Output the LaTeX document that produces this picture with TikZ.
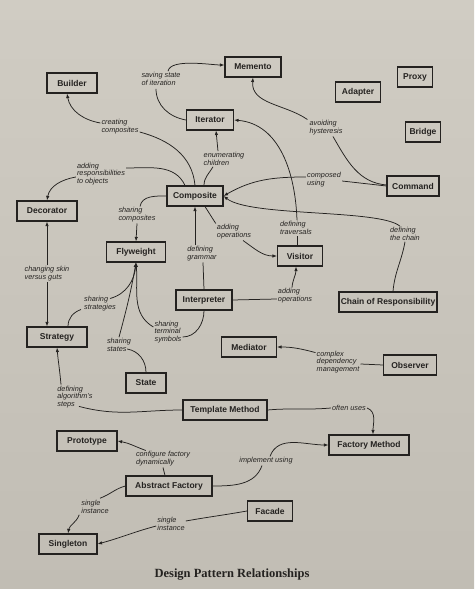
\documentclass[tikz,border=0pt]{standalone}
\usepackage{fontspec}
\setmainfont{Liberation Sans}
\newfontfamily\titlefont{Liberation Serif}
\usetikzlibrary{arrows.meta}
\definecolor{papertop}{RGB}{208,204,195}
\definecolor{paperbot}{RGB}{193,189,180}
\definecolor{ink}{RGB}{36,34,32}
\begin{document}
\begin{tikzpicture}[x=1pt,y=1pt,
  box/.style={draw=ink, line width=1.1pt, minimum height=20pt, inner sep=0pt,
    font=\fontsize{8.5}{10}\selectfont\bfseries, text=ink},
  lab/.style={font=\fontsize{7.3}{7.8}\selectfont\itshape, align=left, inner sep=1pt, text=ink},
  conn/.style={draw=ink, line width=0.75pt},
  arr/.style={conn, -{Latex[length=4.5pt,width=3.4pt]}},
]
\shade[top color=papertop, bottom color=paperbot] (0,0) rectangle (474,589);
\useasboundingbox (0,0) rectangle (474,589);

% boxes
\node[box, minimum width=56pt] (mem) at (253,522) {Memento};
\node[box, minimum width=50pt] (bui) at (72,506) {Builder};
\node[box, minimum width=35pt] (pro) at (415,512) {Proxy};
\node[box, minimum width=45pt] (ada) at (358,497) {Adapter};
\node[box, minimum width=35pt] (bri) at (423,457) {Bridge};
\node[box, minimum width=47pt] (ite) at (210,469) {Iterator};
\node[box, minimum width=52pt] (com) at (413,403) {Command};
\node[box, minimum width=56pt] (cps) at (195,393) {Composite};
\node[box, minimum width=60pt] (dec) at (47,378) {Decorator};
\node[box, minimum width=59pt] (fly) at (136,337) {Flyweight};
\node[box, minimum width=45pt] (vis) at (300,333) {Visitor};
\node[box, minimum width=56pt] (int) at (204,289) {Interpreter};
\node[box, minimum width=98pt] (cor) at (388,287) {Chain of Responsibility};
\node[box, minimum width=60pt] (str) at (57,252) {Strategy};
\node[box, minimum width=40pt] (sta) at (146,206) {State};
\node[box, minimum width=55pt] (med) at (249,242) {Mediator};
\node[box, minimum width=53pt] (obs) at (410,224) {Observer};
\node[box, minimum width=84pt] (tem) at (225,179) {Template Method};
\node[box, minimum width=60pt] (prt) at (87,148) {Prototype};
\node[box, minimum width=80pt] (fac) at (369,144) {Factory Method};
\node[box, minimum width=86pt] (abs) at (169,103) {Abstract Factory};
\node[box, minimum width=45pt] (fcd) at (270,78) {Facade};
\node[box, minimum width=58pt] (sin) at (68,45) {Singleton};

% labels
\node[lab] (l_save) at (161,510) {saving state\\of iteration};
\node[lab] (l_create) at (120,462) {creating\\composites};
\node[lab] (l_addresp) at (101,415) {adding\\responsibilities\\to objects};
\node[lab] (l_enum) at (224,430) {enumerating\\children};
\node[lab] (l_avoid) at (326,461) {avoiding\\hysteresis};
\node[lab] (l_composed) at (324,409) {composed\\using};
\node[lab] (l_sharecomp) at (137,374) {sharing\\composites};
\node[lab] (l_addop1) at (234,357) {adding\\operations};
\node[lab] (l_deftrav) at (296,361) {defining\\traversals};
\node[lab] (l_defchain) at (405,355) {defining\\the chain};
\node[lab] (l_defgram) at (202,335) {defining\\grammar};
\node[lab] (l_skin) at (47,315) {changing skin\\versus guts};
\node[lab] (l_sharestrat) at (100,285) {sharing\\strategies};
\node[lab] (l_addop2) at (295,293) {adding\\operations};
\node[lab] (l_term) at (168,257) {sharing\\terminal\\symbols};
\node[lab] (l_states) at (119,244) {sharing\\states};
\node[lab] (l_complex) at (338,227) {complex\\dependency\\management};
\node[lab] (l_alg) at (75,192) {defining\\algorithm's\\steps};
\node[lab] (l_often) at (349,181) {often uses};
\node[lab] (l_config) at (163,130) {configure factory\\dynamically};
\node[lab] (l_impl) at (266,128) {implement using};
\node[lab] (l_single1) at (95,82) {single\\instance};
\node[lab] (l_single2) at (171,65) {single\\instance};

\node[font=\titlefont\bfseries\fontsize{12.5}{14}\selectfont, text=ink, inner sep=0pt] (title) at (232,14) {Design Pattern Relationships};

% connectors
% Iterator -> Memento
\draw[conn] (ite.west) to[out=170,in=-90] ([xshift=-5pt,yshift=-2pt]l_save.south);
\draw[arr] ([xshift=7pt]l_save.north) to[out=80,in=180,looseness=0.6] ([yshift=2pt]mem.west);
% Composite -> Builder
\draw[conn] ([yshift=-5pt]l_create.east) to[out=-15,in=95] (cps.north);
\draw[arr] ([yshift=4pt]l_create.west) to[out=170,in=-80] ([xshift=-5pt]bui.south);
% Composite -> Iterator
\draw[conn] ([xshift=9pt]cps.north) to[out=90,in=-120] ([xshift=-11pt]l_enum.south);
\draw[arr] ([xshift=-6pt]l_enum.north) -- ([xshift=6pt]ite.south);
% Composite -> Decorator
\draw[conn] ([yshift=6pt]l_addresp.east) to[out=0,in=115] ([xshift=-10pt]cps.north);
\draw[arr] ([yshift=-3pt]l_addresp.west) to[out=190,in=80] (dec.north);
% Command -> Memento
\draw[conn] ([xshift=7pt]l_avoid.south) to[out=-60,in=175] ([yshift=1pt]com.west);
\draw[arr] ([xshift=-1pt]l_avoid.north west) to[out=145,in=-95] (mem.south);
% Command -> Composite
\draw[conn] (com.west) -- ([yshift=-1pt]l_composed.east);
\draw[arr] ([yshift=3pt]l_composed.west) to[out=180,in=30] (cps.east);
% Visitor -> Iterator
\draw[conn] ([xshift=-3pt]vis.north) -- ([xshift=1pt]l_deftrav.south);
\draw[arr] ([xshift=1pt]l_deftrav.north) to[out=92,in=-5] (ite.east);
% Chain -> Composite
\draw[conn] (l_defchain.south) to[out=-100,in=85] ([xshift=5pt]cor.north);
\draw[arr] ([xshift=-5pt]l_defchain.north) .. controls (380,380) and (250,372) .. (cps.east);
% Composite -> Visitor
\draw[conn] ([xshift=10pt]cps.south) -- (l_addop1.north west);
\draw[arr] ([xshift=9pt]l_addop1.south) to[out=-35,in=180] (vis.west);
% Composite -> Flyweight
\draw[conn] (cps.west) to[out=180,in=80] ([xshift=3pt]l_sharecomp.north);
\draw[arr] (l_sharecomp.south) -- (fly.north);
% Interpreter -> Composite
\draw[conn] (int.north) -- ([xshift=1pt]l_defgram.south);
\draw[arr] ([xshift=-7pt]l_defgram.north) -- (cps.south);
% Interpreter -> Visitor
\draw[conn] (int.east) -- ([yshift=-3pt]l_addop2.west);
\draw[arr] ([xshift=-3pt]l_addop2.north) to[out=85,in=-90] ([xshift=-4pt]vis.south);
% Decorator <-> Strategy
\draw[arr] (l_skin.north) -- (dec.south);
\draw[arr] (l_skin.south) -- ([xshift=-10pt]str.north);
% Strategy -> Flyweight
\draw[conn] ([xshift=11pt]str.north) to[out=90,in=-160] ([xshift=-2pt,yshift=3pt]l_sharestrat.south west);
\draw[arr] ([xshift=-7pt,yshift=-3pt]l_sharestrat.north east) to[out=15,in=-95] (fly.south);
% State -> Flyweight
\draw[conn] (sta.north) to[out=90,in=-10] ([xshift=-5pt,yshift=-4pt]l_states.east);
\draw[arr] (l_states.north) to[out=75,in=-100] (fly.south);
% Interpreter -> Flyweight
\draw[conn] (int.south) to[out=-90,in=0] ([yshift=-5pt]l_term.east);
\draw[arr] ([yshift=5pt]l_term.west) to[out=150,in=-85] (fly.south);
% Observer -> Mediator
\draw[conn] (obs.west) -- ([yshift=-2pt]l_complex.east);
\draw[arr] ([yshift=-3pt]l_complex.north west) to[out=165,in=0] (med.east);
% Template Method -> Strategy
\draw[conn] ([xshift=4pt,yshift=3pt]l_alg.south) to[out=-15,in=180] (tem.west);
\draw[arr] ([xshift=-14pt]l_alg.north) to[out=95,in=-85] (str.south);
% Template Method -> Factory Method
\draw[conn] (tem.east) to[out=5,in=185] (l_often.west);
\draw[arr] (l_often.east) to[out=-20,in=90] ([xshift=4pt]fac.north);
% Abstract Factory -> Prototype
\draw[conn] ([xshift=-4pt]abs.north) -- (l_config.south);
\draw[arr] ([xshift=11pt]l_config.north west) to[out=160,in=-10] (prt.east);
% Abstract Factory -> Factory Method
\draw[conn] (abs.east) to[out=0,in=-110] ([xshift=-4pt]l_impl.south);
\draw[arr] ([xshift=4pt]l_impl.north) to[out=70,in=180] (fac.west);
% Abstract Factory -> Singleton
\draw[conn] (abs.west) to[out=195,in=20] ([xshift=5pt,yshift=1pt]l_single1.north);
\draw[arr] ([xshift=-1pt]l_single1.south west) to[out=-110,in=80] (sin.north);
% Facade -> Singleton
\draw[conn] (fcd.west) to[out=190,in=10] ([yshift=3pt]l_single2.east);
\draw[arr] ([yshift=-2pt]l_single2.west) to[out=195,in=15] (sin.east);
\end{tikzpicture}
\end{document}
